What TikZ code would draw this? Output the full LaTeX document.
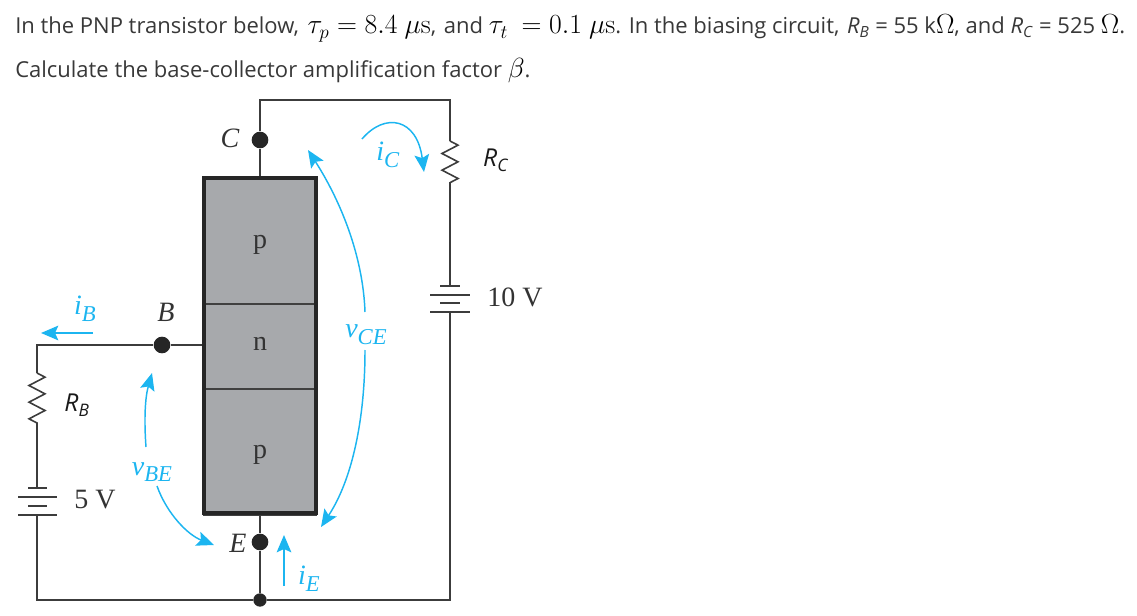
\documentclass[tikz,border=0pt]{standalone}
\usepackage{amsmath, amssymb}
\usepackage[no-math]{fontspec}
\setmainfont{Open Sans}
\newfontfamily\labelfont{Liberation Serif}
\usepackage{xcolor}
\usetikzlibrary{positioning, arrows.meta, decorations.pathmorphing}
\definecolor{sky}{HTML}{1CB5F0}
\definecolor{wirec}{HTML}{3C3C3C}
\definecolor{regionc}{HTML}{A7A9AC}
\newcommand{\currlabel}[2]{\textit{#1}\raisebox{-.24em}{\fontsize{17}{17}\selectfont\textit{#2}}}
\newcommand{\bigmath}[1]{{\fontsize{20}{20}\selectfont\color{black}$#1$}}

\tikzset{
    terminal/.style={circle,fill=black!85,inner sep=0pt,minimum size=12.5pt},
    joint/.style={circle,fill=black!85,inner sep=0pt,minimum size=10pt},
    wire/.style={draw=wirec,line width=1.2pt},
    region/.style={draw=black!75,line width=.8pt,fill=regionc,minimum width=84pt,inner sep=0pt},
    sansline/.style={anchor=base west,inner sep=0pt,font=\fontsize{16.5}{20}\selectfont,text=black!78},
    serif/.style={inner sep=0pt,font=\labelfont\fontsize{21}{21}\selectfont,text=black!80},
    rlabel/.style={inner sep=0pt,font=\fontsize{18.5}{20}\selectfont,text=black!90},
    bluelabel/.style={inner sep=0pt,font=\labelfont\fontsize{21}{21}\selectfont,text=sky},
    bluearrow/.style={draw=sky,line width=1.1pt,-{Stealth[length=13pt,width=11pt,inset=2.5pt]}},
    coil/.style={wire,decorate,decoration={zigzag,segment length=12.5pt,amplitude=6pt}}
}

\begin{document}
\begin{tikzpicture}[x=.75pt,y=-.75pt]
    \useasboundingbox (0,0) rectangle (1137,616);

    \node[sansline] (line1) at (15,34) {In the PNP transistor below,\kern2.2pt{} \bigmath{\tau_p = 8.4~\mu\mathrm{s}},\kern1.5pt{} and \bigmath{\tau_t\kern4.5pt = 0.1~\mu\mathrm{s}}. In the biasing circuit,\kern1.5pt{} \textit{R}\textsubscript{\textit{B}} = 55 k\bigmath{\Omega}, and \textit{R}\textsubscript{\textit{C}} = 525 \bigmath{\Omega}.};
    \node[sansline] (line2) at (15,78) {Calculate the base-collector amplification factor \bigmath{\beta}.};

    % transistor
    \node[region,minimum height=94pt] (pc) at (260,240.5) {};
    \node[region,minimum height=63pt] (nb) [below=0pt of pc] {};
    \node[region,minimum height=94.5pt] (pe) [below=0pt of nb] {};
    \node[draw=black!85,line width=2.6pt,inner sep=0pt,minimum width=84pt,minimum height=251.5pt] (box) at (260,345.5) {};
    \node[serif,anchor=base] (labelp1) at (260,249) {p};
    \node[serif,anchor=base] (labeln) at (260,350) {n};
    \node[serif,anchor=base] (labelp2) at (260,458) {p};

    \node[terminal] (c) at (260,140) {};
    \node[terminal] (b) at (162,345) {};
    \node[terminal] (e) at (260,542) {};
    \node[joint] (g) at (260,600) {};

    \coordinate (topleft) at (260,100);
    \coordinate (topright) at (450,100);
    \coordinate (rctop) at (450,141);
    \coordinate (rcbot) at (450,190);
    \coordinate (bat10a) at (450,286);
    \coordinate (bat10b) at (450,312);
    \coordinate (botright) at (450,600);
    \coordinate (corner) at (37,345);
    \coordinate (rbtop) at (37,373);
    \coordinate (rbbot) at (37,425);
    \coordinate (bat5a) at (37,488);
    \coordinate (bat5b) at (37,515);
    \coordinate (botleft) at (37,600);

    \path[wire]
    (box.north) -- (c) -- (topleft) -- (topright) -- (rctop)
    (rcbot) -- (bat10a)
    (bat10b) -- (botright) -- (g) -- (botleft) -- (bat5b)
    (bat5a) -- (rbbot)
    (rbtop) -- (corner) -- (b) -- (box.west |- b)
    (box.south) -- (e) -- (g);

    \draw[coil] (rctop) -- (rcbot);
    \draw[coil] (rbtop) -- (rbbot);

    % batteries
    \draw[wire] (440,286) -- (460,286);
    \draw[wire] (430,295) -- (470,295);
    \draw[wire] (440,303) -- (460,303);
    \draw[wire] (430,312) -- (470,312);
    \draw[wire] (28,488) -- (47,488);
    \draw[wire] (18,497) -- (57,497);
    \draw[wire] (28,506) -- (47,506);
    \draw[wire] (18,515) -- (57,515);

    % labels
    \node[serif] (labelc) at (230,138) {\textit{C}};
    \node[serif] (labelb) at (166,312) {\textit{B}};
    \node[serif] (labele) at (238,543) {\textit{E}};
    \node[serif] (label5) at (95,500) {5 V};
    \node[serif] (label10) at (515,297) {10 V};
    \node[rlabel] (labelrc) at (496,160) {\textit{R}\textsubscript{\textit{C}}};
    \node[rlabel] (labelrb) at (77,405) {\textit{R}\textsubscript{\textit{B}}};
    \node[bluelabel] (labelic) at (388,155) {\currlabel{i}{C}};
    \node[bluelabel] (labelib) at (85,309) {\currlabel{i}{B}};
    \node[bluelabel] (labelie) at (309,579) {\currlabel{i}{E}};
    \node[bluelabel] (labelvce) at (366,335) {\currlabel{v}{CE}};
    \node[bluelabel] (labelvbe) at (152,472) {\currlabel{v}{BE}};

    % arrows
    \coordinate (ica) at (362,139);
    \coordinate (icb) at (424,172);
    \draw[bluearrow] (ica) .. controls (385,112) and (417,118) .. (icb);
    \coordinate (vcea) at (365,312);
    \coordinate (vceb) at (308,150);
    \draw[bluearrow] (vcea) .. controls (363,255) and (340,200) .. (vceb);
    \coordinate (vcec) at (365,350);
    \coordinate (vced) at (321,527);
    \draw[bluearrow] (vcec) .. controls (365,420) and (352,480) .. (vced);
    \coordinate (vbea) at (146,447);
    \coordinate (vbeb) at (152,373);
    \draw[bluearrow] (vbea) .. controls (144,420) and (145,398) .. (vbeb);
    \coordinate (vbec) at (157,486);
    \coordinate (vbed) at (214,545);
    \draw[bluearrow] (vbec) .. controls (167,514) and (188,535) .. (vbed);
    \coordinate (iba) at (93,333);
    \coordinate (ibb) at (41,333);
    \draw[bluearrow] (iba) -- (ibb);
    \coordinate (iea) at (284,586);
    \coordinate (ieb) at (284,535);
    \draw[bluearrow] (iea) -- (ieb);
\end{tikzpicture}
\end{document}
